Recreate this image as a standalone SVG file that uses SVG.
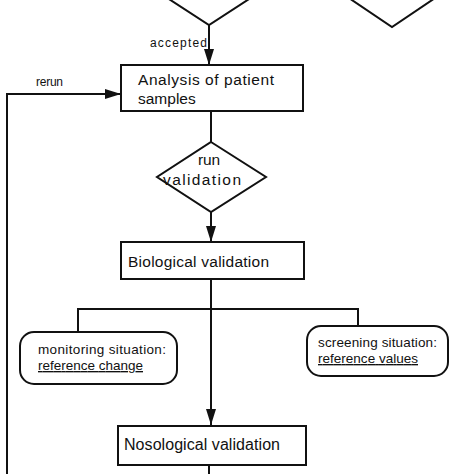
<svg xmlns="http://www.w3.org/2000/svg" width="474" height="474" viewBox="0 0 474 474">
<style>
.s{fill:#fff;stroke:#111;stroke-width:2}
.l{fill:none;stroke:#111;stroke-width:2}
.t{font-family:"Liberation Sans",Arial,sans-serif;fill:#111}
.big{font-size:15.5px}
.mid{font-size:13.5px}
.sm{font-size:12px}
.u{text-decoration:underline}
</style>
<defs>
<marker id="ah" viewBox="0 0 16 10" refX="16" refY="5" markerWidth="16" markerHeight="10" markerUnits="userSpaceOnUse" orient="auto">
<path d="M0,0 L16,5 L0,10 Z" fill="#111"/>
</marker>
</defs>
<rect width="474" height="474" fill="#fff"/>
<g id="connectors">
<line class="l" x1="209" y1="25" x2="209" y2="65" marker-end="url(#ah)"/>
<polyline class="l" points="7,474 7,94 121,94" marker-end="url(#ah)"/>
<line class="l" x1="211" y1="111" x2="211" y2="142"/>
<line class="l" x1="211" y1="212" x2="211" y2="242" marker-end="url(#ah)"/>
<line class="l" x1="211" y1="279" x2="211" y2="425" marker-end="url(#ah)"/>
<polyline class="l" points="78,332 78,309 358,309 358,326"/>
<line class="l" x1="209" y1="465" x2="209" y2="474"/>
</g>
<g id="top-left-decision">
<polygon class="s" points="155,-10 209,25 263,-10 209,-45"/>
</g>
<g id="top-right-decision">
<polygon class="s" points="337,-10 392,27 447,-10 392,-47"/>
</g>
<g id="label-accepted">
<text class="t sm" x="150" y="47" textLength="57" lengthAdjust="spacing">accepted</text>
</g>
<g id="label-rerun">
<text class="t sm" x="36" y="86" textLength="27" lengthAdjust="spacing">rerun</text>
</g>
<g id="analysis">
<rect class="s" x="121" y="65" width="182" height="46"/>
<text class="t big" x="138" y="85" textLength="136" lengthAdjust="spacing">Analysis of patient</text>
<text class="t big" x="138" y="104">samples</text>
</g>
<g id="run-validation">
<polygon class="s" points="211,142 266,177 211,212 157,177"/>
<text class="t big" x="198" y="165" textLength="22" lengthAdjust="spacing">run</text>
<text class="t big" x="163" y="185" textLength="78" lengthAdjust="spacing">validation</text>
</g>
<g id="biological">
<rect class="s" x="121" y="242" width="183" height="37"/>
<text class="t big" x="128" y="267" textLength="141" lengthAdjust="spacing">Biological validation</text>
</g>
<g id="monitoring">
<rect class="s" x="20" y="332" width="157" height="52" rx="14"/>
<text class="t mid" x="38" y="354" textLength="128" lengthAdjust="spacing">monitoring situation:</text>
<text class="t mid u" x="38" y="370" textLength="105" lengthAdjust="spacing">reference change</text>
</g>
<g id="screening">
<rect class="s" x="307" y="326" width="141" height="50" rx="14"/>
<text class="t mid" x="318" y="347" textLength="119" lengthAdjust="spacing">screening situation:</text>
<text class="t mid u" x="318" y="363" textLength="100" lengthAdjust="spacing">reference values</text>
</g>
<g id="nosological">
<rect class="s" x="118" y="426" width="188" height="39"/>
<text class="t" style="font-size:16px" x="124" y="450" textLength="156" lengthAdjust="spacing">Nosological validation</text>
</g>
</svg>
